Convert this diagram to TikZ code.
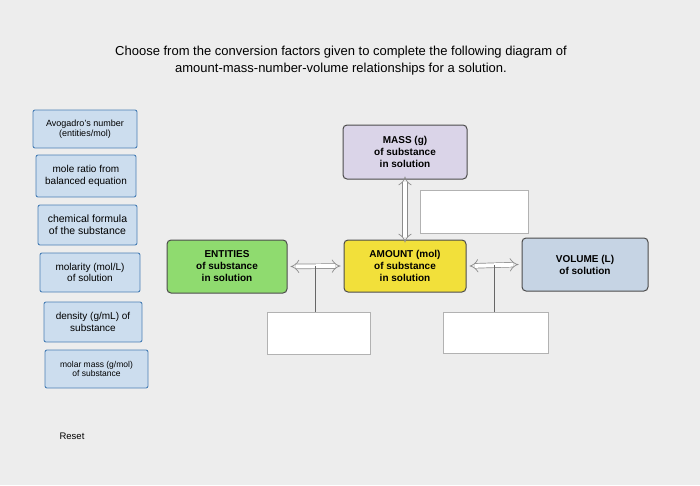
\documentclass[tikz,border=0pt]{standalone}
\usepackage{fontspec}
\setmainfont{Liberation Sans}
\usetikzlibrary{arrows.meta}
\definecolor{optfill}{HTML}{CCDDEE}
\definecolor{optdraw}{HTML}{4A7FB5}
\definecolor{massfill}{HTML}{DAD4E8}
\definecolor{entfill}{HTML}{8FDB6F}
\definecolor{amtfill}{HTML}{F2E03A}
\definecolor{volfill}{HTML}{C6D4E4}
\begin{document}
\begin{tikzpicture}[x=1pt,y=-1pt,
 opt/.style={draw=optdraw,fill=optfill,rounded corners=2pt,line width=0.9pt,align=center,font=\fontsize{10}{11.5}\selectfont,inner sep=0pt},
 bigbox/.style={draw=black!70,rounded corners=4pt,line width=1pt,align=center,font=\fontsize{10}{12}\selectfont\bfseries,inner sep=0pt},
 blank/.style={draw=black!30,fill=white,inner sep=0pt},
 dbl/.style={double=white,double distance=4pt,draw=black!45,line width=0.7pt,{Implies}-{Implies}},
 conn/.style={draw=black!60,line width=0.6pt}]
\fill[black!7] (0,0) rectangle (700,485);
\node[font=\fontsize{13}{17}\selectfont,align=center] (title) at (341,61) {Choose from the conversion factors given to complete the following diagram of\\amount-mass-number-volume relationships for a solution.};
\node[opt,minimum width=104pt,minimum height=38pt,font=\fontsize{9}{10.5}\selectfont] (o1) at (85,129) {Avogadro's number\\(entities/mol)};
\node[opt,minimum width=100pt,minimum height=42pt] (o2) at (86,176) {mole ratio from\\balanced equation};
\node[opt,minimum width=99pt,minimum height=40pt,font=\fontsize{10.5}{12}\selectfont] (o3) at (87.5,225) {chemical formula\\of the substance};
\node[opt,minimum width=100pt,minimum height=39pt] (o4) at (90,272.5) {molarity (mol/L)\\of solution};
\node[opt,minimum width=98pt,minimum height=40pt] (o5) at (93,322) {density (g/mL) of\\substance};
\node[opt,minimum width=103pt,minimum height=38pt,font=\fontsize{8.5}{9.5}\selectfont] (o6) at (96.5,369) {molar mass (g/mol)\\of substance};
\node[font=\fontsize{9.5}{11}\selectfont] (reset) at (72,436) {Reset};
\node[bigbox,fill=massfill,minimum width=124pt,minimum height=54pt] (mass) at (405,152) {MASS (g)\\of substance\\in solution};
\node[blank,minimum width=108pt,minimum height=43pt] (b1) at (474,211.5) {};
\node[bigbox,fill=entfill,minimum width=120pt,minimum height=53pt] (ent) at (227,266.5) {ENTITIES\\of substance\\in solution};
\node[bigbox,fill=amtfill,minimum width=122pt,minimum height=52pt] (amt) at (405,266) {AMOUNT (mol)\\of substance\\in solution};
\node[bigbox,fill=volfill,minimum width=126pt,minimum height=53pt] (vol) at (585,264.5) {VOLUME (L)\\of solution};
\node[blank,minimum width=103pt,minimum height=42pt] (b2) at (318.5,333) {};
\node[blank,minimum width=105pt,minimum height=41pt] (b3) at (495.5,332.5) {};
\draw[dbl] ([yshift=3pt]mass.south) -- ([yshift=-3pt]amt.north);
\draw[dbl] ([xshift=3pt]ent.east) -- coordinate[pos=0.5] (m1) ([xshift=-3pt]amt.west);
\draw[dbl] ([xshift=3pt]amt.east) -- coordinate[pos=0.5] (m2) ([xshift=-3pt]vol.west);
\draw[conn] (m1) -- (m1 |- b2.north);
\draw[conn] (m2) -- (m2 |- b3.north);
\end{tikzpicture}
\end{document}
